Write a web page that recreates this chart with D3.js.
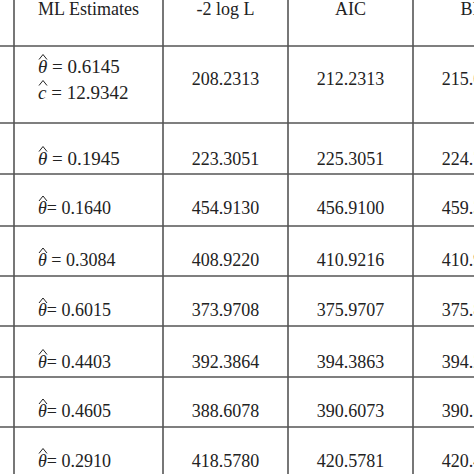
<!DOCTYPE html>
<html><head><meta charset="utf-8">
<script src="https://cdn.jsdelivr.net/npm/d3@7"></script>
<style>body{margin:0;background:#fff}</style>
</head><body>
<script>
var headers = ["", "ML Estimates", "-2 log L", "AIC", "BIC"];
var estimates = [["θ = 0.6145", "c = 12.9342"], ["θ = 0.1945"], ["θ= 0.1640"], ["θ = 0.3084"],
                 ["θ= 0.6015"], ["θ= 0.4403"], ["θ= 0.4605"], ["θ= 0.2910"]];
var logL = ["208.2313", "223.3051", "454.9130", "408.9220", "373.9708", "392.3864", "388.6078", "418.5780"];
var aic = ["212.2313", "225.3051", "456.9100", "410.9216", "375.9707", "394.3863", "390.6073", "420.5781"];
var bic = ["215.0412", "224.7391", "459.3204", "410.9012", "375.8601", "394.2702", "390.5105", "420.4613"];
var rowUnits = [46, 77, 51, 52, 50, 50, 51, 50, 47];
var colUnits = [14, 149, 125, 125, 125];

var W = 474, H = 474;
var svg = d3.select("body").append("svg").attr("width", W).attr("height", H);

var rowEdges = [0].concat(Array.from(d3.cumsum(rowUnits)));
var colEdges = [0].concat(Array.from(d3.cumsum(colUnits)));
var y = d3.scaleLinear().domain([0, 474]).range([0, H]);
var x = d3.scaleLinear().domain([0, 474]).range([0, W]);

// grid lines
svg.selectAll(".h").data(rowEdges.slice(1, -1)).enter().append("line")
  .attr("x1", 0).attr("x2", W).attr("y1", d => y(d)).attr("y2", d => y(d))
  .attr("stroke", "#555").attr("stroke-width", 1.6);
svg.selectAll(".v").data(colEdges.slice(1)).enter().append("line")
  .attr("y1", 0).attr("y2", H).attr("x1", d => x(d)).attr("x2", d => x(d))
  .attr("stroke", "#555").attr("stroke-width", 1.6);

var font = "'Liberation Serif', 'Times New Roman', serif";
function cx(c) { return x((colEdges[c] + colEdges[c + 1]) / 2); }
function cy(r) { return y((rowEdges[r] + rowEdges[r + 1]) / 2); }
var rowShift = [-12, -4, 12, 10, 11, 11, 12, 11, 12];

// header
headers.forEach(function(h, c) {
  if (!h) return;
  svg.append("text").attr("x", cx(c)).attr("y", cy(0) + rowShift[0]).attr("text-anchor", "middle")
    .attr("dominant-baseline", "middle").attr("font-family", font).attr("font-size", 18)
    .attr("fill", "#222").text(h);
});

// body
var cols = [logL, aic, bic];
estimates.forEach(function(est, i) {
  var r = i + 1;
  var yy = cy(r) + rowShift[r];
  est.forEach(function(e, k) {
    var ty = est.length > 1 ? cy(r) + (k - 0.5) * 26 - 3 : yy;
    var fs = r < 3 ? 19 : 18;
    var x0 = x(colEdges[1]) + 24;
    svg.append("text").attr("x", x0).attr("y", ty)
      .attr("dominant-baseline", "middle").attr("font-family", font)
      .attr("font-size", fs).attr("fill", "#222")
      .html('<tspan font-style="italic">' + e[0] + '</tspan>' + e.slice(1));
    // hat over the estimate symbol
    var hx = x0 + 5, hy = ty - 11;
    svg.append("path").attr("d", "M" + (hx - 4) + "," + (hy + 2) + "L" + hx + "," + (hy - 3) + "L" + (hx + 4) + "," + (hy + 2))
      .attr("fill", "none").attr("stroke", "#222").attr("stroke-width", 1);
  });
  cols.forEach(function(col, j) {
    svg.append("text").attr("x", cx(j + 2)).attr("y", yy)
      .attr("text-anchor", "middle").attr("dominant-baseline", "middle")
      .attr("font-family", font).attr("font-size", 18).attr("fill", "#222").text(col[i]);
  });
});
</script>
</body></html>
